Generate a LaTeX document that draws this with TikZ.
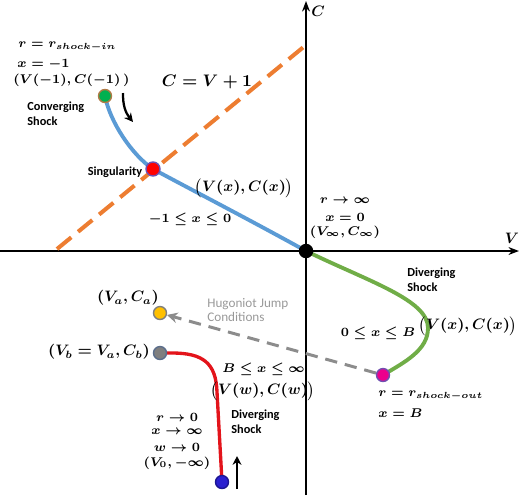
\RequirePackage{fix-cm}
\documentclass[tikz,border=0pt]{standalone}
\usepackage{fontspec}
\usepackage{amsmath,bm}
\newfontfamily\calfont{Carlito}
\usetikzlibrary{arrows.meta,backgrounds}
\definecolor{cblue}{HTML}{5B9BD5}
\definecolor{corange}{HTML}{ED7D31}
\definecolor{cgreenl}{HTML}{70AD47}
\definecolor{cred}{HTML}{E3141B}
\definecolor{cgraydash}{HTML}{8C8C8C}
\definecolor{cgreen}{HTML}{00B050}
\definecolor{cbrown}{HTML}{B07A45}
\definecolor{cpurple}{HTML}{7050B0}
\definecolor{cyellow}{HTML}{FFC000}
\definecolor{cgray}{HTML}{7F7F7F}
\definecolor{cgrayblue}{HTML}{5B6E8C}
\definecolor{cdblue}{HTML}{2A1FD0}
\definecolor{chug}{HTML}{999999}
\begin{document}
\begin{tikzpicture}[x=0.02cm,y=-0.02cm,
  axis/.style={line width=0.9pt, -{Stealth[length=6pt,width=4.5pt]}},
  dot/.style={circle, draw, line width=0.8pt, minimum size=0.26cm, inner sep=0pt},
  bigm/.style={font=\fontsize{8.6}{10}\selectfont\boldmath, inner sep=0pt},
  smallm/.style={font=\fontsize{7.2}{8.5}\selectfont\boldmath, inner sep=0pt},
  lbl/.style={font=\calfont\bfseries\fontsize{7}{8.5}\selectfont, align=left, inner sep=0pt},
  curve/.style={line width=2.2pt, line cap=round},
]
\useasboundingbox (0,0) rectangle (520,495);
% axes
\coordinate (xl) at (0,251); \coordinate (xr) at (519,251);
\coordinate (yb) at (306,495); \coordinate (yt) at (306,1);
\draw[axis] (xl) -- (xr);
\draw[axis] (yb) -- (yt);
\node[bigm] (Vl) at (512,238) {$V$};
\node[bigm] (Cl) at (318,11) {$C$};
% line C = V + 1
\coordinate (o1) at (57,249); \coordinate (o2) at (306,45);
\draw[corange, line width=2.3pt, dash pattern=on 10.5pt off 5pt] (o1) -- (o2);
\node[bigm, font=\fontsize{9.5}{11}\selectfont\boldmath] (cv) at (207,82) {$C = V + 1$};
% dots
\node[dot, fill=cgreen, draw=cbrown] (G) at (105,96) {};
\node[dot, fill=red, draw=cpurple, minimum size=0.28cm] (R) at (153,169) {};
\node[dot, fill=black, draw=black] (O) at (306,251) {};
\node[dot, fill=magenta, draw=cpurple] (M) at (383,375) {};
\node[dot, fill=cyellow, draw=cgray] (Y) at (160,313) {};
\node[dot, fill=cgray, draw=cgrayblue] (Gb) at (160,353) {};
\node[dot, fill=cdblue, draw=cdblue!70!black] (B) at (222,482) {};
% curves
\begin{scope}[on background layer]
\draw[curve, cblue] (G.center) .. controls (110,122) and (132,155) .. (R.center)
  .. controls (190,189) and (250,220) .. (O.center);
\draw[curve, cgreenl] (O.center) .. controls (370,282) and (428,300) .. (428,328)
  .. controls (428,350) and (405,362) .. (M.center);
\draw[curve, cred, line width=1.9pt] (Gb.center) -- (172,353) .. controls (203,353) and (216,363) .. (217,392) -- (B.center);
\end{scope}
% Hugoniot jump
\draw[cgraydash, line width=1.7pt, dash pattern=on 7pt off 4.5pt, -{Stealth[length=6pt,width=6pt]}] (M) -- (Y);
\node[lbl, font=\calfont\fontsize{7.5}{8.5}\selectfont, text=chug, anchor=west] (hug) at (207,310) {Hugoniot Jump\\Conditions};
% arrows
\coordinate (a1) at (123,93); \coordinate (a2) at (133,122);
\draw[line width=1.3pt, -{Stealth[length=5pt,width=5pt]}] (a1) to[bend right=20] (a2);
\coordinate (u1) at (237,489); \coordinate (u2) at (237,456);
\draw[line width=1.1pt, -{Stealth[length=5pt,width=5pt]}] (u1) -- (u2);
% top-left labels
\node[smallm, anchor=west] (t1) at (18,47) {$r = r_{\bm{shock-in}}$};
\node[smallm, anchor=west] (t2) at (17,64) {$x = -1$};
\node[smallm, anchor=west] (t3) at (13,80) {$(V(-1), C(-1)\,)$};
\node[lbl, anchor=west] (conv) at (27,114) {Converging\\Shock};
\node[lbl] (sing) at (115,172) {Singularity};
\node[bigm] (vc1) at (244,188) {$\bigl(V(x), C(x)\bigr)$};
\node[smallm] (rng1) at (190,219) {$-1 \le x \le 0$};
% origin labels
\node[smallm] (o_a) at (345,201) {$r \to \infty$};
\node[smallm] (o_b) at (345,217) {$x = 0$};
\node[smallm] (o_c) at (345,232) {$(V_\infty, C_\infty)$};
% diverging (green)
\node[lbl, anchor=west] (div1) at (407,280) {Diverging\\Shock};
\node[bigm] (vc2) at (468,326) {$\bigl(V(x), C(x)\bigr)$};
\node[smallm] (rng2) at (378,333) {$0 \le x \le B$};
\node[smallm, anchor=west] (m1) at (378,396) {$r = r_{\bm{shock-out}}$};
\node[smallm, anchor=west] (m2) at (378,413) {$x = B$};
% lower left
\node[bigm] (va) at (128,298) {$(V_a, C_a)$};
\node[bigm] (vb) at (99,352) {$(V_b = V_a, C_b)$};
\node[smallm, anchor=west] (rng3) at (222,369) {$B \le x \le \infty$};
\node[bigm] (vw) at (263,391) {$\bigl(V(w), C(w)\bigr)$};
\node[lbl, anchor=west] (div2) at (231,422) {Diverging\\Shock};
\node[smallm] (b1) at (177,417) {$r \to 0$};
\node[smallm] (b2) at (177,432) {$x \to \infty$};
\node[smallm] (b3) at (177,447) {$w \to 0$};
\node[smallm] (b4) at (177,463) {$(V_0, -\infty)$};
\end{tikzpicture}
\end{document}
